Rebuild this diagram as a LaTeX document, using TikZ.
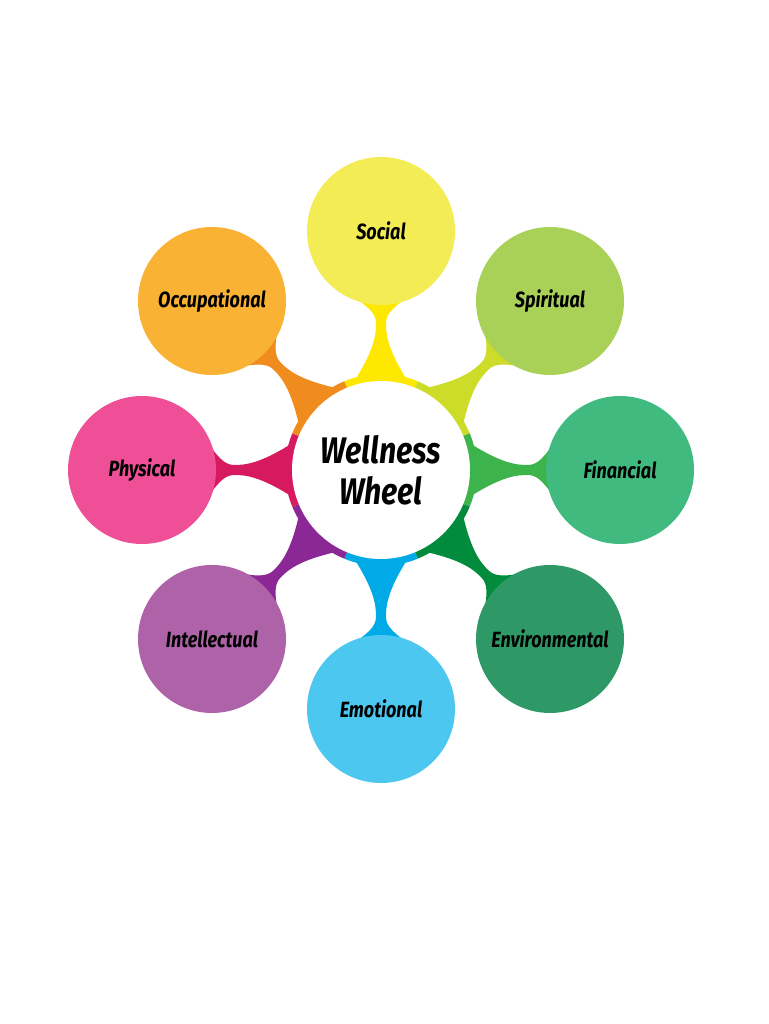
\documentclass[tikz,border=0pt]{standalone}
\usepackage{fontspec}
\usetikzlibrary{calc}
\newfontfamily\labfont[FakeStretch=0.82]{Fira Sans}
\begin{document}
\begin{tikzpicture}[x=1pt,y=1pt,
  lab/.style={font=\labfont\bfseries\itshape\fontsize{22}{24}\selectfont,text=black}]
\useasboundingbox[fill=white] (0,0) rectangle (768,1024);
\coordinate (C) at (381,554);
\def\petal#1#2#3#4#5{% angle, ring colour, fill colour, name, text
  \begin{scope}[shift={(C)},rotate=#1]
    \fill[#2] (90,-26) .. controls (122,-6) and (136,-5) .. (147,-5)
      .. controls (157,-5) and (164,-14) .. (175,-30) -- (175,30)
      .. controls (164,14) and (157,5) .. (147,5)
      .. controls (136,5) and (122,6) .. (90,26) -- cycle;
    \fill[#2] (0,0) -- (-22.5:96) arc[start angle=-22.5,end angle=22.5,radius=96] -- cycle;
  \end{scope}
  \node[circle,fill=#3,minimum size=148pt,inner sep=0pt] (#4) at ($(C)+(#1:239)$) {};
  \node[lab] at (#4) {#5};
}
\definecolor{r1}{RGB}{255,232,0}\definecolor{f1}{RGB}{243,236,85}
\definecolor{r2}{RGB}{205,220,40}\definecolor{f2}{RGB}{169,209,88}
\definecolor{r3}{RGB}{60,180,75}\definecolor{f3}{RGB}{64,186,127}
\definecolor{r4}{RGB}{0,140,60}\definecolor{f4}{RGB}{46,153,102}
\definecolor{r5}{RGB}{0,170,230}\definecolor{f5}{RGB}{76,199,240}
\definecolor{r6}{RGB}{140,40,150}\definecolor{f6}{RGB}{174,98,168}
\definecolor{r7}{RGB}{215,25,95}\definecolor{f7}{RGB}{238,79,150}
\definecolor{r8}{RGB}{240,140,30}\definecolor{f8}{RGB}{249,178,51}
\petal{90}{r1}{f1}{social}{Social}
\petal{45}{r2}{f2}{spiritual}{Spiritual}
\petal{0}{r3}{f3}{financial}{Financial}
\petal{-45}{r4}{f4}{environmental}{Environmental}
\petal{-90}{r5}{f5}{emotional}{Emotional}
\petal{-135}{r6}{f6}{intellectual}{Intellectual}
\petal{180}{r7}{f7}{physical}{Physical}
\petal{135}{r8}{f8}{occupational}{Occupational}
\node[circle,fill=white,minimum size=178pt,inner sep=0pt,align=center,
  font=\labfont\bfseries\itshape\fontsize{37}{41}\selectfont] (center) at (C) {Wellness\\Wheel};
\end{tikzpicture}
\end{document}
